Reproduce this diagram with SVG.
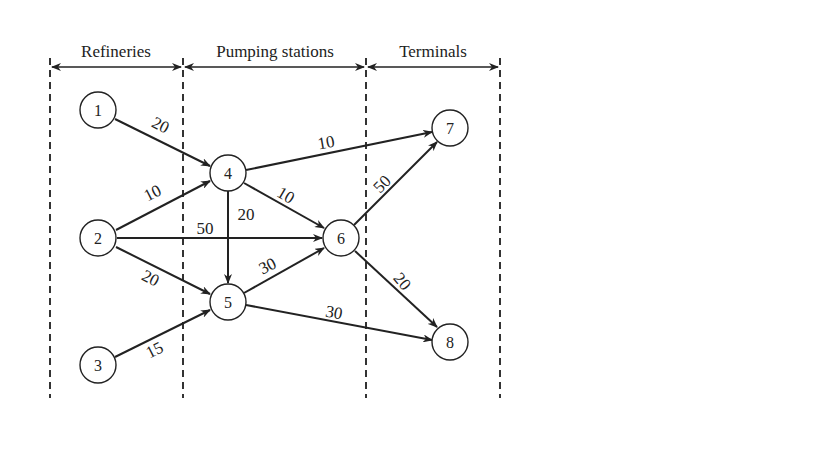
<svg xmlns="http://www.w3.org/2000/svg" width="819" height="460" viewBox="0 0 819 460">
<defs>
<marker id="a" markerWidth="10" markerHeight="8" refX="9" refY="4" orient="auto" markerUnits="userSpaceOnUse"><path d="M0,0 L10,4 L0,8 L3,4 Z" fill="#222"/></marker>
<marker id="s" markerWidth="10" markerHeight="8" refX="1" refY="4" orient="auto" markerUnits="userSpaceOnUse"><path d="M10,0 L0,4 L10,8 L7,4 Z" fill="#222"/></marker>
</defs>
<style>
.d{stroke:#333;stroke-width:2;stroke-dasharray:7,5}
.e{stroke:#222;stroke-width:2;fill:none;marker-end:url(#a)}
.h{stroke:#222;stroke-width:1.3;marker-end:url(#a);marker-start:url(#s)}
circle{fill:#fff;stroke:#222;stroke-width:1.4}
text{font-family:"Liberation Serif",serif;font-size:17px;fill:#222;text-anchor:middle}
.n{font-size:16px}
</style>
<rect width="819" height="460" fill="#fff"/>
<g id="guides">
<line class="d" x1="50" y1="58" x2="50" y2="398"/>
<line class="d" x1="183" y1="58" x2="183" y2="398"/>
<line class="d" x1="366" y1="58" x2="366" y2="398"/>
<line class="d" x1="500" y1="58" x2="500" y2="398"/>
<line class="h" x1="52" y1="67" x2="181" y2="67"/>
<line class="h" x1="185" y1="67" x2="364" y2="67"/>
<line class="h" x1="368" y1="67" x2="498" y2="67"/>
<text x="116" y="57">Refineries</text>
<text x="275" y="57">Pumping stations</text>
<text x="433" y="57">Terminals</text>
</g>
<g id="connectors">
<line class="e" x1="115" y1="119" x2="210" y2="166"/>
<line class="e" x1="116" y1="230" x2="210" y2="181"/>
<line class="e" x1="117" y1="238" x2="322" y2="238"/>
<line class="e" x1="116" y1="247" x2="210" y2="294"/>
<line class="e" x1="115" y1="357" x2="210" y2="310"/>
<line class="e" x1="246" y1="170" x2="432" y2="132"/>
<line class="e" x1="244" y1="183" x2="324" y2="228"/>
<line class="e" x1="228" y1="191" x2="228" y2="283"/>
<line class="e" x1="244" y1="293" x2="324" y2="248"/>
<line class="e" x1="246" y1="305" x2="432" y2="340"/>
<line class="e" x1="354" y1="225" x2="437" y2="142"/>
<line class="e" x1="355" y1="251" x2="437" y2="327"/>
<text transform="translate(158,130) rotate(27)">20</text>
<text transform="translate(327,148) rotate(-10)">10</text>
<text transform="translate(155,198) rotate(-27)">10</text>
<text transform="translate(283,200) rotate(30)">10</text>
<text x="246" y="220">20</text>
<text x="205" y="234">50</text>
<text transform="translate(386,188) rotate(-45)">50</text>
<text transform="translate(148,283) rotate(27)">20</text>
<text transform="translate(270,271) rotate(-27)">30</text>
<text transform="translate(398,285) rotate(50)">20</text>
<text transform="translate(333,318) rotate(10)">30</text>
<text transform="translate(157,355) rotate(-27)">15</text>
</g>
<g id="n1"><circle cx="98" cy="110" r="18"/><text class="n" x="98" y="116">1</text></g>
<g id="n2"><circle cx="98" cy="238" r="18"/><text class="n" x="98" y="244">2</text></g>
<g id="n3"><circle cx="98" cy="365" r="18"/><text class="n" x="98" y="371">3</text></g>
<g id="n4"><circle cx="228" cy="173" r="18"/><text class="n" x="228" y="179">4</text></g>
<g id="n5"><circle cx="228" cy="302" r="18"/><text class="n" x="228" y="308">5</text></g>
<g id="n6"><circle cx="341" cy="238" r="18"/><text class="n" x="341" y="244">6</text></g>
<g id="n7"><circle cx="450" cy="128" r="18"/><text class="n" x="450" y="134">7</text></g>
<g id="n8"><circle cx="450" cy="342" r="18"/><text class="n" x="450" y="348">8</text></g>
</svg>
